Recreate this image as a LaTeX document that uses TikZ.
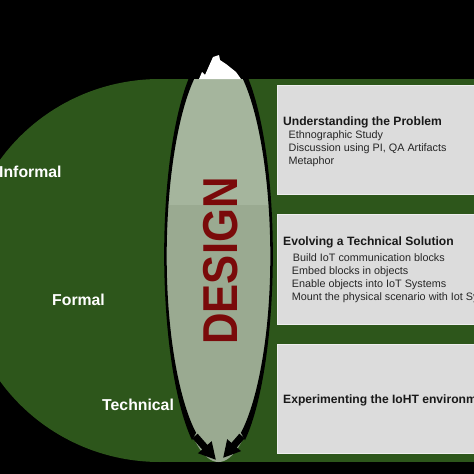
\documentclass[tikz,border=0pt]{standalone}
\usepackage{fontspec}
\setmainfont{Liberation Sans}
\usetikzlibrary{arrows.meta}
\definecolor{bggreen}{HTML}{2D561B}
\definecolor{lenstop}{HTML}{A5B59D}
\definecolor{lensbot}{HTML}{9AAA91}
\definecolor{boxgray}{HTML}{DCDCDC}
\definecolor{boxedge}{HTML}{EEEEEE}
\definecolor{designred}{HTML}{7A0A0A}
\tikzset{
  sidelabel/.style={text=white, font=\fontsize{15.8}{18}\selectfont\bfseries, anchor=west, inner sep=0pt},
  boxtitle/.style={text=black!90, font=\fontsize{12.1}{14}\selectfont\bfseries, anchor=base west, inner sep=0pt},
  boxitem/.style={text=black!85, font=\fontsize{10.8}{13}\selectfont, anchor=base west, inner sep=0pt},
  panel/.style={fill=boxgray, draw=boxedge, line width=0.8pt},
  arrowhd/.style={line width=7pt, -{Triangle[length=17pt,width=17pt]}},
  declare function={
    wl(\t)=2.5+(\t>175)*4*((\t-175)/65)^2+(\t<=175)*6*((175-\t)/57)^2;
    wr(\t)=2.5+(\t<5)*4*((5-\t)/65)^2+(\t>=5)*6*((\t-5)/57)^2;
  },
}
\begin{document}
\begin{tikzpicture}[x=1pt,y=-1pt]
\useasboundingbox (0,0) rectangle (474,474);
\clip (0,0) rectangle (474,474);
\fill[black] (0,0) rectangle (474,474);
% green band
\fill[bggreen] (160,270.5) ellipse [x radius=196pt, y radius=191.5pt];
\fill[bggreen] (160,79) rectangle (474,462);
% lens fill
\begin{scope}
\clip (0,79) rectangle (474,205);
\fill[lenstop] (218.5,255) ellipse [x radius=53.5pt, y radius=207pt];
\end{scope}
\begin{scope}
\clip (0,205) rectangle (474,462);
\fill[lensbot] (218.5,255) ellipse [x radius=53.5pt, y radius=207pt];
\end{scope}
% left crescent
\fill[black] plot[domain=240:118, samples=60] ({218.5+(53.5+wl(\x)/3)*cos(\x)},{255+(207+wl(\x)/3)*sin(\x)})
  -- plot[domain=118:240, samples=60] ({218.5+(53.5-2*wl(\x)/3)*cos(\x)},{255+(207-2*wl(\x)/3)*sin(\x)}) -- cycle;
% right crescent
\fill[black] plot[domain=-60:62, samples=60] ({218.5+(53.5+wr(\x)/3)*cos(\x)},{255+(207+wr(\x)/3)*sin(\x)})
  -- plot[domain=62:-60, samples=60] ({218.5+(53.5-2*wr(\x)/3)*cos(\x)},{255+(207-2*wr(\x)/3)*sin(\x)}) -- cycle;
% arrowheads
\coordinate (lfrom) at (195,436);
\coordinate (ltip) at (216,460);
\coordinate (rfrom) at (242,436);
\coordinate (rtip) at (223,458);
\draw[arrowhd] (lfrom) -- (ltip);
\draw[arrowhd] (rfrom) -- (rtip);
% white top
\fill[white] (199,79) -- (202,72) -- (205,75) -- (213,57) -- (219,55) -- (220,60) -- (226,64) -- (236,72) -- (241,79) -- cycle;
% DESIGN
\node (design) [rotate=90, text=designred, inner sep=0pt, font=\fontsize{49}{50}\selectfont\bfseries] at (220.5,261) {\scalebox{0.89}[1]{DESIGN}};
% side labels
\node (informal) [sidelabel] at (-1,172) {Informal};
\node (formal) [sidelabel] at (52,300) {Formal};
\node (technical) [sidelabel] at (102,405) {Technical};
% panels
\fill[panel] (277,85) rectangle (490,194);
\fill[panel] (277,214) rectangle (490,324);
\fill[panel] (277,344) rectangle (490,453);
\draw[boxedge, line width=0.8pt] (277,85) rectangle (490,194);
\draw[boxedge, line width=0.8pt] (277,214) rectangle (490,324);
\draw[boxedge, line width=0.8pt] (277,344) rectangle (490,453);
% panel 1
\node (t1) [boxtitle] at (283,125) {Understanding the Problem};
\node (i11) [boxitem] at (288.5,138.3) {Ethnographic Study};
\node (i12) [boxitem] at (288.5,151.7) {Discussion using PI, QA Artifacts};
\node (i13) [boxitem] at (288.5,164.5) {Metaphor};
% panel 2
\node (t2) [boxtitle] at (283,245.7) {Evolving a Technical Solution};
\node (i21) [boxitem] at (292.7,261) {Build IoT communication blocks};
\node (i22) [boxitem] at (291.7,274) {Embed blocks in objects};
\node (i23) [boxitem] at (291.7,287.3) {Enable objects into IoT Systems};
\node (i24) [boxitem] at (291.7,300.3) {Mount the physical scenario with Iot Systems};
% panel 3
\node (t3) [boxtitle] at (283,403.3) {Experimenting the IoHT environment};
\end{tikzpicture}
\end{document}
